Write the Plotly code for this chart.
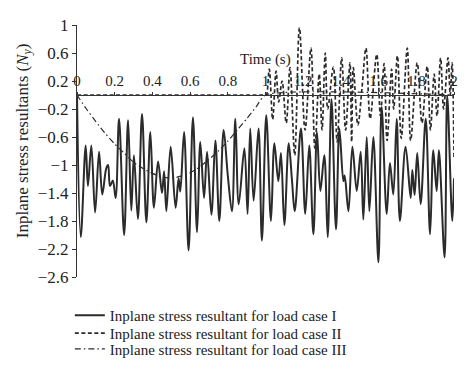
import plotly.graph_objects as go

# Case I (solid) turning points
t1 = [0.0, 0.02, 0.046, 0.058, 0.076, 0.096, 0.117, 0.134, 0.155, 0.165, 0.175, 0.19, 0.205,
      0.223, 0.25, 0.271, 0.288, 0.302, 0.323, 0.345, 0.368, 0.389, 0.408, 0.43, 0.451, 0.462,
      0.474, 0.497, 0.523, 0.539, 0.548, 0.568, 0.592, 0.615, 0.637, 0.654, 0.674, 0.69, 0.713,
      0.734, 0.755, 0.778, 0.80, 0.822, 0.84, 0.858, 0.888, 0.905, 0.919, 0.937, 0.963, 0.981,
      1.004, 1.029, 1.047, 1.068, 1.082, 1.10, 1.123, 1.14, 1.155, 1.188, 1.211, 1.232, 1.254,
      1.273, 1.291, 1.312, 1.33, 1.35, 1.374, 1.392, 1.413, 1.42, 1.44, 1.461, 1.484, 1.505,
      1.519, 1.537, 1.551, 1.572, 1.599, 1.616, 1.643, 1.66, 1.678, 1.696, 1.713, 1.743, 1.77,
      1.779, 1.791, 1.805, 1.823, 1.85, 1.873, 1.89, 1.908, 1.92, 1.95, 1.964, 1.991, 2.0]
v1 = [0.0, -2.03, -0.72, -1.30, -0.72, -1.68, -0.81, -1.42, -1.05, -1.00, -1.30, -1.22, -1.47,
      -0.34, -2.00, -0.36, -1.65, -0.86, -1.77, -0.27, -1.82, -0.53, -1.61, -0.95, -1.40, -1.09,
      -1.66, -0.74, -1.61, -1.19, -1.38, -0.53, -2.22, -0.32, -1.96, -0.67, -1.47, -0.81, -1.71,
      -0.65, -1.80, -0.50, -1.15, -1.66, -0.34, -1.56, -0.76, -1.70, -0.48, -1.51, -0.48, -2.08,
      -0.29, -1.80, -0.69, -1.23, -0.83, -1.86, -0.69, -1.20, -1.66, -0.48, -1.70, -0.72, -1.99,
      -0.53, -1.37, -0.86, -2.03, -0.06, -1.92, -0.48, -1.23, -1.15, -1.66, -0.74, -1.37, -0.81,
      -1.78, -0.60, -1.66, -0.60, -2.39, -0.17, -1.70, -0.97, -1.42, -0.34, -1.80, -0.74, -1.47,
      -1.07, -1.43, -0.83, -1.56, -0.34, -1.99, -0.79, -1.37, -0.79, -2.32, -0.01, -1.80, -1.19]

# Case II (dashed) turning points
t2 = [0.0, 1.0, 1.005, 1.02, 1.038, 1.056, 1.07, 1.088, 1.11, 1.13, 1.155, 1.18, 1.21, 1.241,
      1.262, 1.285, 1.30, 1.317, 1.33, 1.36, 1.38, 1.404, 1.425, 1.448, 1.457, 1.466, 1.49,
      1.512, 1.533, 1.555, 1.59, 1.61, 1.629, 1.645, 1.669, 1.68, 1.70, 1.72, 1.752, 1.77,
      1.805, 1.83, 1.858, 1.875, 1.895, 1.91, 1.929, 1.945, 1.968, 1.98, 1.99, 2.0]
v2 = [0.0, 0.0, 0.0, 0.37, -0.35, 0.34, -0.10, 0.20, -0.40, 0.39, -0.86, 0.96, -0.50, 0.67,
      -0.76, 0.30, -0.50, 0.60, -0.20, 0.40, -0.67, 0.53, -0.50, 0.46, -0.67, 0.39, -0.43,
      0.10, 0.67, -0.34, 0.58, -0.30, 0.45, -0.65, 0.37, -0.20, 0.56, -0.62, 0.67, -0.65,
      0.46, -0.40, 0.41, -0.50, 0.30, -0.30, 0.53, -0.20, 0.53, 0.0, 0.46, -0.90]

# Case III (dash-dot)
t3 = [0.0, 0.05, 0.1, 0.15, 0.2, 0.25, 0.3, 0.35, 0.4, 0.45, 0.5, 0.55, 0.6, 0.65, 0.7,
      0.75, 0.8, 0.85, 0.9, 0.95, 1.0, 2.0]
v3 = [0.0, -0.20, -0.38, -0.55, -0.70, -0.83, -0.96, -1.05, -1.12, -1.17, -1.19, -1.16,
      -1.11, -1.03, -0.92, -0.80, -0.66, -0.50, -0.34, -0.17, 0.0, 0.0]

names = ["Inplane stress resultant for load case I",
         "Inplane stress resultant for load case II",
         "Inplane stress resultant for load case III"]
x_ticks = [0, 0.2, 0.4, 0.6, 0.8, 1, 1.2, 1.4, 1.6, 1.8, 2]
y_ticks = [1, 0.6, 0.2, -0.2, -0.6, -1, -1.4, -1.8, -2.2, -2.6]

FONT = "Liberation Serif"
fig = go.Figure()
fig.add_trace(go.Scatter(x=t1, y=v1, mode="lines", name=names[0], legend="legend",
                         line=dict(color="#2b2b2b", width=2, shape="spline", smoothing=1)))
fig.add_trace(go.Scatter(x=t2, y=v2, mode="lines", name=names[1], legend="legend2",
                         line=dict(color="#2b2b2b", width=1.7, dash="4px,2.5px", shape="spline", smoothing=1)))
fig.add_trace(go.Scatter(x=t3, y=v3, mode="lines", name=names[2], legend="legend3",
                         line=dict(color="#2b2b2b", width=1.2, dash="6px,3px,1.5px,3px", shape="spline", smoothing=0.6)))

leg_common = dict(orientation="v", x=-0.019, xanchor="left", yanchor="middle",
                  font=dict(family=FONT, size=15, color="#222"), bgcolor="rgba(0,0,0,0)",
                  itemwidth=30)

fig.update_layout(
    width=474, height=378, autosize=False,
    margin=dict(l=77, r=20, t=25, b=98),
    plot_bgcolor="white", paper_bgcolor="white",
    font=dict(family=FONT, size=15, color="#222"),
    showlegend=True,
    legend=dict(y=-0.153, **leg_common),
    legend2=dict(y=-0.2235, **leg_common),
    legend3=dict(y=-0.2863, **leg_common),
    xaxis=dict(range=[0, 2.0], tickvals=x_ticks, side="top", anchor="free",
               position=2.6 / 3.6, showline=True, linecolor="#333", linewidth=1.2,
               ticks="outside", ticklen=3, tickcolor="#333", showgrid=False, zeroline=False,
               tickfont=dict(family=FONT, size=15)),
    yaxis=dict(range=[-2.6, 1.0], tickvals=y_ticks, showline=True, linecolor="#333",
               linewidth=1.2, ticks="outside", ticklen=4, tickcolor="#333", showgrid=False,
               zeroline=False, tickfont=dict(family=FONT, size=17)),
    annotations=[
        dict(text="Time (s)", x=1.0, y=0.51, xref="x", yref="y", showarrow=False,
             xanchor="center", yanchor="middle",
             font=dict(family=FONT, size=15, color="#222")),
        dict(text="Inplane stress resultants (<i>N</i><sub><i>y</i></sub>)", textangle=-90,
             x=-0.1406, y=0.543, xref="paper", yref="paper", showarrow=False,
             xanchor="center", yanchor="middle",
             font=dict(family=FONT, size=17, color="#222")),
    ],
)

fig.write_html("out.html")
